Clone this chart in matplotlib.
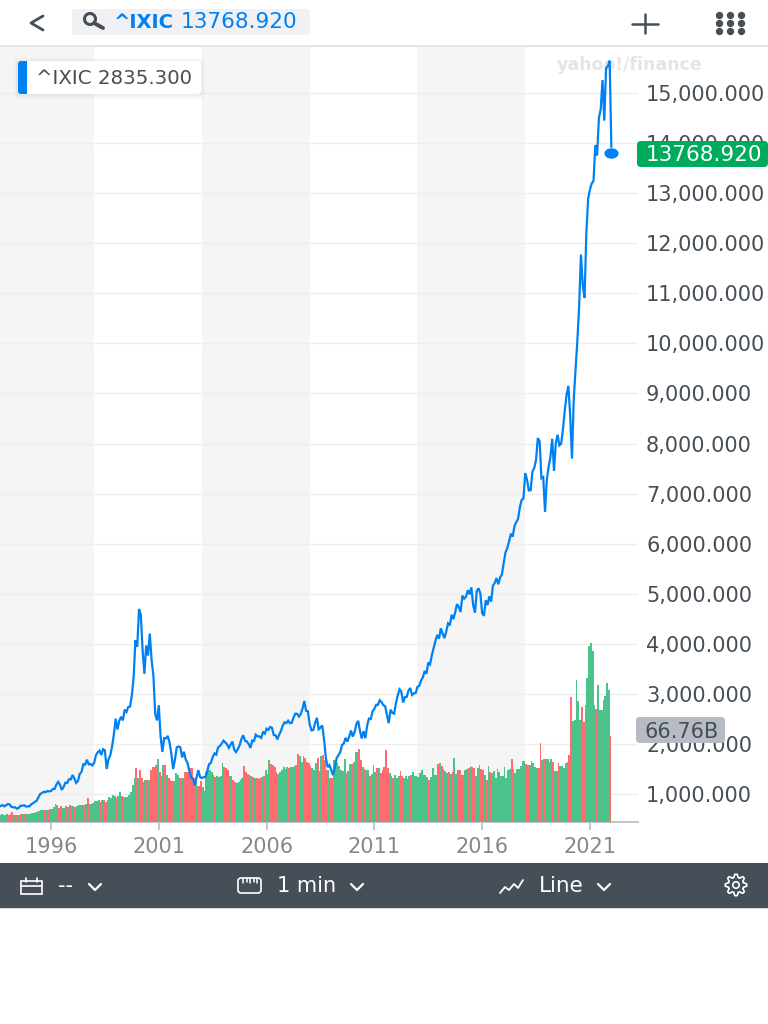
import numpy as np
import matplotlib
matplotlib.use('Agg')
import matplotlib.pyplot as plt
from matplotlib.patches import FancyBboxPatch, Rectangle, Circle, Polygon
from matplotlib.path import Path
from matplotlib.transforms import Affine2D

plt.rcParams['font.family'] = ['DejaVu Sans']

# monthly closes, Aug 1993 to Jan 2022
close = [
    742, 763, 779, 754, 777,
    800, 793, 743, 733, 735, 706, 722, 766, 764, 777, 750, 752,
    755, 793, 817, 843, 865, 933, 1001, 1020, 1044, 1036, 1059, 1052,
    1060, 1100, 1101, 1190, 1243, 1185, 1081, 1141, 1226, 1221, 1293, 1291,
    1379, 1309, 1221, 1260, 1400, 1442, 1594, 1587, 1685, 1593, 1601, 1570,
    1619, 1771, 1835, 1868, 1779, 1894, 1872, 1499, 1693, 1771, 1949, 2193,
    2505, 2288, 2461, 2542, 2470, 2686, 2638, 2739, 2746, 2966, 3336, 4069,
    3940, 4696, 4572, 3860, 3400, 3966, 3766, 4206, 3673, 3369, 2597, 2470,
    2772, 2151, 1840, 2116, 2110, 2161, 2027, 1805, 1499, 1690, 1931, 1950,
    1934, 1731, 1845, 1688, 1616, 1463, 1328, 1315, 1172, 1329, 1479, 1336,
    1321, 1337, 1341, 1464, 1596, 1623, 1735, 1810, 1787, 1932, 1960, 2003,
    2066, 2030, 1994, 1920, 1987, 2048, 1887, 1838, 1897, 1975, 2097, 2175,
    2062, 2052, 1999, 1921, 2068, 2057, 2185, 2152, 2151, 2120, 2233, 2205,
    2306, 2281, 2340, 2322, 2179, 2172, 2091, 2184, 2258, 2367, 2432, 2415,
    2464, 2416, 2422, 2525, 2605, 2603, 2546, 2596, 2702, 2859, 2661, 2652,
    2389, 2271, 2279, 2413, 2523, 2293, 2326, 2368, 2092, 1721, 1536, 1577,
    1476, 1378, 1529, 1717, 1774, 1835, 1979, 2009, 2122, 2045, 2145, 2269,
    2147, 2238, 2398, 2461, 2257, 2109, 2255, 2114, 2369, 2507, 2498, 2652,
    2700, 2782, 2781, 2873, 2835.3, 2774, 2756, 2579, 2415, 2684, 2620, 2605,
    2814, 2966, 3091, 3046, 2827, 2935, 2939, 3067, 3116, 2977, 3010, 3019,
    3142, 3160, 3267, 3329, 3456, 3403, 3626, 3589, 3771, 3920, 4060, 4176,
    4104, 4308, 4199, 4114, 4243, 4408, 4370, 4580, 4493, 4631, 4792, 4736,
    4635, 4964, 4901, 4941, 5070, 4987, 5128, 4777, 4620, 5054, 5108, 5007,
    4614, 4558, 4870, 4775, 4948, 4843, 5162, 5213, 5312, 5189, 5324, 5383,
    5615, 5825, 5912, 6048, 6199, 6140, 6348, 6429, 6496, 6728, 6874, 6903,
    7411, 7273, 7063, 7066, 7442, 7510, 7672, 8109, 8046, 7306, 7330, 6635,
    7282, 7533, 7729, 8095, 7453, 8006, 8175, 7963, 7999, 8292, 8665, 8973,
    9151, 8567, 7700, 8890, 9490, 10059, 10745, 11775, 11168, 10911, 12199, 12888,
    13070, 13192, 13247, 13962, 13749, 14504, 14673, 15259, 14449, 15498, 15538, 15645,
    13768.92,
]

# monthly volume in billions, same months
volume = [
    5.4, 5.4, 6.2, 5.4, 5.4,
    6.2, 5.4, 6.2, 7.8, 5.4, 5.4, 5.4, 5.4, 6.2, 6.2, 6.2, 6.2,
    6.2, 6.2, 7.0, 7.0, 7.8, 7.8, 8.5, 9.3, 9.3, 9.3, 9.3, 9.3,
    10.1, 10.1, 11.6, 14.0, 13.2, 10.9, 12.4, 10.9, 10.9, 12.4, 11.6, 13.2,
    12.4, 12.4, 11.6, 12.4, 13.2, 13.2, 13.2, 13.2, 14.0, 18.6, 14.0, 14.0,
    14.7, 16.3, 16.3, 17.1, 15.5, 17.1, 17.1, 15.5, 17.1, 19.4, 18.6, 21.0,
    20.2, 18.6, 20.2, 23.3, 20.2, 19.4, 19.4, 19.4, 21.0, 23.3, 28.7, 34.1,
    41.9, 34.1, 40.4, 34.1, 31.0, 32.6, 32.6, 32.6, 40.4, 42.7, 42.7, 44.2,
    48.9, 38.8, 35.7, 44.2, 44.2, 36.5, 34.1, 32.6, 31.8, 31.8, 38.0, 36.5,
    34.1, 34.1, 34.1, 38.8, 38.8, 38.8, 41.9, 41.9, 34.1, 31.0, 27.9, 27.9,
    31.8, 27.2, 24.1, 38.8, 41.9, 40.4, 38.8, 36.5, 34.9, 35.7, 34.9, 35.7,
    45.8, 42.7, 41.9, 40.4, 35.7, 35.7, 32.6, 31.0, 30.3, 31.0, 32.6, 34.1,
    43.5, 38.8, 37.2, 36.5, 35.7, 34.9, 34.1, 34.1, 33.4, 34.1, 34.9, 35.7,
    40.4, 37.2, 48.1, 45.0, 44.2, 42.7, 38.8, 37.2, 38.8, 40.4, 42.7, 41.1,
    42.7, 41.9, 42.7, 42.7, 43.5, 44.2, 52.8, 51.2, 46.6, 51.2, 49.7, 46.6,
    45.8, 43.5, 41.9, 40.4, 45.8, 49.7, 39.6, 51.2, 52.0, 48.1, 40.4, 40.4,
    34.1, 34.1, 48.1, 46.6, 45.8, 43.5, 40.4, 39.6, 48.9, 38.0, 39.6, 45.0,
    45.0, 46.6, 54.3, 54.3, 56.6, 48.1, 42.7, 41.1, 40.4, 40.4, 35.7, 37.2,
    44.2, 38.8, 41.9, 41.9, 38.0, 40.4, 42.7, 55.9, 41.9, 38.0, 35.7, 34.1,
    36.5, 34.1, 35.7, 39.6, 35.7, 34.1, 35.7, 33.4, 35.7, 36.5, 38.8, 35.7,
    35.7, 34.9, 38.0, 40.4, 36.5, 36.5, 34.9, 32.6, 34.9, 41.9, 36.5, 36.5,
    45.0, 45.8, 43.5, 41.1, 39.6, 38.0, 38.8, 37.2, 38.8, 49.7, 37.2, 40.4,
    40.4, 36.5, 36.5, 40.4, 41.1, 41.9, 43.5, 42.7, 41.9, 35.7, 41.9, 44.2,
    41.1, 40.4, 36.5, 32.6, 43.5, 38.8, 38.0, 39.6, 34.1, 41.1, 38.8, 35.7,
    35.7, 42.7, 34.1, 40.4, 41.1, 48.9, 41.1, 38.0, 41.1, 41.1, 43.5, 47.3,
    47.3, 45.0, 44.2, 44.2, 47.3, 45.8, 42.7, 41.9, 41.9, 61.3, 48.1, 48.9,
    48.9, 48.9, 46.6, 48.9, 46.6, 39.6, 39.6, 45.8, 43.5, 43.5, 41.9, 45.8,
    46.6, 52.0, 97.0, 78.4, 79.2, 110.2, 93.9, 79.2, 89.2, 77.6, 90.8, 111.7,
    136.6, 138.9, 132.7, 90.8, 87.7, 106.3, 86.9, 86.9, 94.7, 97.8, 107.9, 102.4,
    66.76,
]

year_ticks = [1996, 2001, 2006, 2011, 2016, 2021]
price_ticks = [1000, 2000, 3000, 4000, 5000, 6000, 7000, 8000, 9000, 10000,
               11000, 12000, 13000, 14000, 15000]
shaded_years = [(1993, 1998), (2003, 2008), (2013, 2018)]

BLUE = '#0081f2'
GREEN = '#4cc38a'
RED = '#ff6b6f'
DARK = '#464e56'
BAR = '#464e57'

t = 1993 + 7 / 12 + np.arange(len(close)) / 12
close = np.array(close, dtype=float)
volume = np.array(volume)
bar_colors = [GREEN] + [RED if c < p else GREEN for c, p in zip(close[1:], close[:-1])]

fig = plt.figure(figsize=(7.68, 10.24), dpi=100)
rect = [0, (1024 - 822) / 1024, 638 / 768, (822 - 47) / 1024]

# bottom layer: bands, grid, ticks
ax = fig.add_axes(rect)
xlim = (1993.634, 2023.23)
ylim = (441, 15919)
ax.set_xlim(xlim)
ax.set_ylim(ylim)
for a, b in shaded_years:
    ax.axvspan(a, b, color='#f5f5f5', lw=0, zorder=0)
ax.grid(axis='y', color='#eeeeee', lw=1)
ax.set_axisbelow(True)
for s in ['top', 'left', 'right']:
    ax.spines[s].set_visible(False)
ax.spines['bottom'].set_color('#c2c4c8')
ax.spines['bottom'].set_linewidth(1.4)
ax.set_xticks(year_ticks)
ax.set_xticklabels([str(y) for y in year_ticks], fontsize=15, color='#85888d')
ax.tick_params(axis='x', length=5.5, width=1.4, color='#c2c4c8', pad=5)
ax.yaxis.tick_right()
ax.set_yticks(price_ticks)
ax.set_yticklabels([f'{p:,.3f}' for p in price_ticks], fontsize=15, color=DARK)
ax.tick_params(axis='y', length=0, pad=5.8)
ax.text(1996 + (629.5 - 51) / 21.56, 15560, 'yahoo!/finance', fontsize=12.5, fontweight='bold',
        color='#e3e5ec', ha='center', va='center', zorder=1)

# volume bars, hidden scale
ax_vol = fig.add_axes(rect, sharex=ax)
ax_vol.patch.set_visible(False)
ax_vol.axis('off')
ax_vol.bar(t, volume, width=-1 / 12, align='edge', color=bar_colors, lw=0)
ax_vol.set_ylim(0, 601.6)
ax_vol.set_xlim(xlim)

# price line on top
ax_line = fig.add_axes(rect, sharex=ax)
ax_line.patch.set_visible(False)
ax_line.axis('off')
ax_line.plot(t, close, color=BLUE, lw=1.6, solid_joinstyle='miter')
ell = Path.unit_circle().transformed(Affine2D().scale(1.35, 1))
ax_line.plot(t[-1], close[-1] + 30, marker=ell, ms=10.8, color=BLUE, mec='white', mew=0.5, clip_on=False)
ax_line.set_ylim(ylim)
ax_line.set_xlim(xlim)

# app chrome in pixel coordinates
ui = fig.add_axes([0, 0, 1, 1], zorder=5)
ui.set_xlim(0, 768)
ui.set_ylim(1024, 0)
ui.axis('off')


def rbox(x0, y0, x1, y1, color, r=4, z=2, alpha=1):
    ui.add_patch(FancyBboxPatch((x0 + r, y0 + r), x1 - x0 - 2 * r, y1 - y0 - 2 * r,
                                boxstyle=f'round,pad={r},rounding_size={r}',
                                fc=color, ec='none', zorder=z, alpha=alpha))


def stroke(xs, ys, color=DARK, lw=1.5):
    ui.plot(xs, ys, color=color, lw=lw, solid_capstyle='round', solid_joinstyle='round', zorder=6)


# header
ui.add_patch(Rectangle((0, 0), 768, 45, fc='white', ec='none', zorder=1))
ui.add_patch(Rectangle((0, 45), 768, 2, fc='#e6e6ea', ec='none', zorder=1))
stroke([43, 31, 43], [16, 23, 30], lw=2)
rbox(72, 9, 310, 35, '#f0f0f5')
ui.add_patch(Circle((90, 19), 5.5, fc='none', ec=DARK, lw=2.2, zorder=6))
stroke([94, 103], [23, 28], lw=2.8)
ui.text(113, 22, '^IXIC', fontsize=14, fontweight='bold', color=BLUE, va='center', zorder=6)
ui.text(181, 22, '13768.920', fontsize=15.6, color=BLUE, va='center', zorder=6)
stroke([632, 658], [24, 24], lw=1.8)
stroke([645, 645], [14, 33], lw=1.8)
for dy in [15, 23, 31]:
    ui.scatter([719, 730, 741], [dy] * 3, s=28, color=DARK, lw=0, zorder=6)

# hover legend
for pad, a in [(4, 0.025), (2, 0.035)]:
    rbox(18 - pad, 61 - pad + 1, 201 + pad, 94 + pad + 1, '#000000', r=5, alpha=a)
rbox(18, 61, 201, 94, 'white')
rbox(18, 61, 30, 94, BLUE, r=3, z=3)
ui.add_patch(Rectangle((27, 61), 4, 33, fc='white', ec='none', zorder=3))
ui.text(36, 78, '^IXIC 2835.300', fontsize=14.2, color=DARK, va='center', zorder=6)

# value tags
rbox(637, 141, 768, 167, '#00ab5e')
ui.text(646, 155, f'{close[-1]:.3f}', fontsize=15.5, color='white', va='center', zorder=6)
rbox(636, 717, 725, 743, '#b6bbc5')
ui.text(645, 732, f'{volume[-1]:.2f}B', fontsize=15, color=DARK, va='center', zorder=6)

# bottom toolbar
ui.add_patch(Rectangle((0, 863), 768, 45, fc=BAR, ec='none', zorder=1))
ui.add_patch(Rectangle((0, 908), 768, 1, fc='#d8dade', ec='none', zorder=1))
ui.add_patch(Rectangle((21, 881), 21, 13, fc='none', ec='white', lw=1.2, zorder=6))
stroke([21, 42], [885.5, 885.5], 'white', 1.2)
stroke([26, 26], [878, 882], 'white', 1.2)
stroke([37, 37], [878, 882], 'white', 1.2)
ui.text(58, 886, '--', fontsize=15, color='white', va='center', zorder=6)
stroke([89, 95, 101], [884, 890, 884], 'white', 1.6)
ui.add_patch(FancyBboxPatch((240, 880), 19, 11, boxstyle='round,pad=2,rounding_size=3',
                            fc='none', ec='white', lw=1.2, zorder=6))
for rx, rl in [(243, 5), (247, 3.5), (250, 5), (254, 3.5), (257, 5)]:
    stroke([rx, rx], [878, 878 + rl], 'white', 1.1)
ui.text(277, 886, '1 min', fontsize=15, color='white', va='center', zorder=6)
stroke([351, 357, 363], [884, 890, 884], 'white', 1.6)
stroke([500, 505, 509, 514, 518, 523], [893, 887, 890, 884, 888, 880], 'white', 1.3)
ui.text(539, 886, 'Line', fontsize=15.5, color='white', va='center', zorder=6)
stroke([598, 604, 610], [884, 890, 884], 'white', 1.6)

ang = np.linspace(0, 2 * np.pi, 65)[:-1]
rad = 9.2 + 1.5 * np.clip(2.2 * np.cos(8 * ang), -1, 1)
ui.add_patch(Polygon(np.c_[736 + rad * np.cos(ang), 885 + rad * np.sin(ang)], closed=True,
                     fc='none', ec='white', lw=1.2, zorder=6))
ui.add_patch(Circle((736, 885), 3.2, fc='none', ec='white', lw=1.2, zorder=6))

fig.savefig('out.png', dpi=100)
